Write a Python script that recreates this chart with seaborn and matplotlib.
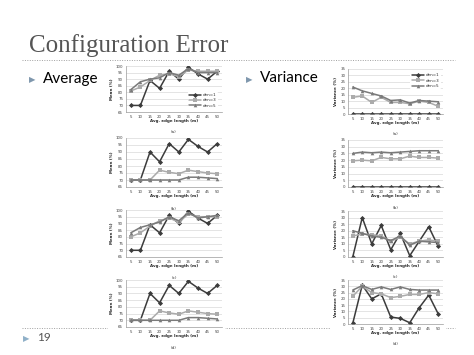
import matplotlib
matplotlib.use("Agg")
import pandas as pd
import seaborn as sns
import matplotlib.pyplot as plt
from matplotlib.lines import Line2D
from matplotlib.patches import Rectangle

# data
edge_len = [5, 10, 15, 20, 25, 30, 35, 40, 45, 50]
den_labels = ["den=1", "den=3", "den=5"]

mean_a_den1 = [70, 70, 89, 83, 96, 90, 99, 94, 90, 96]
mean_a_den3 = [81, 84, 89, 93, 94, 92, 97, 96, 96, 96]
mean_a_den5 = [82, 88, 90, 91, 95, 93, 98, 95, 95, 95]

mean_b_den1 = [70, 70, 90, 83, 96, 90, 99, 94, 90, 96]
mean_b_den3 = [70, 70, 70, 77, 75.5, 74.5, 77, 76, 75, 74.5]
mean_b_den5 = [70, 70, 70, 70, 70, 70, 72, 72, 71.5, 71]

mean_c_den1 = [70, 70, 89, 83, 96, 90, 99, 94, 90, 96]
mean_c_den3 = [80, 83, 88, 92, 94, 91, 97, 95, 95, 95]
mean_c_den5 = [83, 87, 89, 91, 95, 92, 98, 94, 95, 96]

mean_d_den1 = [70, 70, 90, 83, 96, 90, 99, 94, 90, 96]
mean_d_den3 = [70, 70, 70, 77, 75.5, 74.5, 77, 76, 75, 74.5]
mean_d_den5 = [70, 70, 70, 70, 70, 70, 72, 72, 71.5, 71]

var_a_den1 = [0, 0, 0, 0, 0, 0, 0, 0, 0, 0]
var_a_den3 = [13, 14, 9, 13, 9, 9, 8, 10, 9, 6]
var_a_den5 = [21, 18, 16, 14, 10.5, 11, 8.5, 10.5, 10, 9.5]

var_b_den1 = [0, 0, 0, 0, 0, 0, 0, 0, 0, 0]
var_b_den3 = [19.5, 20, 19.5, 22, 21, 21, 23, 22, 22, 21.5]
var_b_den5 = [25, 26, 25.5, 26, 25.5, 26, 26.5, 27, 27, 27]

var_c_den1 = [0, 30, 10, 24, 5.5, 18, 1, 12, 23, 8]
var_c_den3 = [16, 17.5, 17, 16, 12, 15, 10, 12, 13, 12]
var_c_den5 = [20, 18, 16, 15, 12.5, 16, 9, 12, 11.5, 11]

var_d_den1 = [0.5, 31, 20, 24, 5.5, 4.5, 1, 13, 23, 8]
var_d_den3 = [22, 30, 25, 24, 21, 22, 23.5, 23.5, 25, 24]
var_d_den5 = [27, 30.5, 27.5, 29.5, 27.5, 29.5, 27.5, 27, 27, 27]

mean_ticks = [65, 70, 75, 80, 85, 90, 95, 100]
var_ticks = [0, 5, 10, 15, 20, 25, 30, 35]

PALETTE = {"den=1": "#3c3c3c", "den=3": "#ababab", "den=5": "#7a7a7a"}
MARKERS = {"den=1": "D", "den=3": "s", "den=5": "^"}
SMALL = 2.9

W, H = 474, 355
sns.set_style("white")
plt.rcParams["font.family"] = ["DejaVu Sans"]

fig = plt.figure(figsize=(W / 100, H / 100), dpi=100)


def fx(px):
    return px / W


def fy(py):
    return 1 - py / H


def add_chart(box, series, ticks, ylabel, tag, legend_loc=None):
    """One little Excel style chart: box = (left, right, top, bottom) in px."""
    left, right, top, bottom = box
    # white chart image behind the axes
    fig.patches.append(Rectangle((fx(left - 18), fy(bottom + 20)), fx(right - left + 21),
                                 (bottom - top + 24) / H, transform=fig.transFigure,
                                 facecolor="white", edgecolor="none", zorder=1))
    ax = fig.add_axes([fx(left), fy(bottom), fx(right - left), (bottom - top) / H])
    ax.set_zorder(2)

    df = pd.DataFrame({
        "edge": edge_len * 3,
        "value": series[0] + series[1] + series[2],
        "den": [d for d in den_labels for _ in edge_len],
    })
    sns.lineplot(data=df, x="edge", y="value", hue="den", style="den",
                 palette=PALETTE, markers=MARKERS, dashes=False, linewidth=1.1,
                 markersize=2.6, markeredgewidth=0, ax=ax,
                 legend=legend_loc is not None)

    ax.set_xlim(2.5, 52.5)
    ax.set_ylim(ticks[0], ticks[-1])
    ax.set_xticks(edge_len)
    ax.set_yticks(ticks)
    ax.tick_params(labelsize=SMALL, length=1, width=0.4, pad=1, colors="#444444")
    ax.yaxis.grid(True, color="#cfcfcf", linewidth=0.4)
    for s in ["top", "right"]:
        ax.spines[s].set_visible(False)
    for s in ["left", "bottom"]:
        ax.spines[s].set_color("#9a9a9a")
        ax.spines[s].set_linewidth(0.5)
    ax.set_ylabel(ylabel, fontsize=SMALL, fontweight="bold", labelpad=1.5)
    ax.set_xlabel("Avg. edge length (m)", fontsize=SMALL, fontweight="bold", labelpad=0.5)
    ax.text(0.5, -0.40, tag, transform=ax.transAxes, ha="center", va="top",
            fontsize=SMALL, color="#333333")

    if legend_loc is not None:
        handles, labels = ax.get_legend_handles_labels()
        loc, anchor = legend_loc
        ax.legend(handles, labels, loc=loc, bbox_to_anchor=anchor, fontsize=SMALL,
                  frameon=True, facecolor="white", edgecolor="none", framealpha=1,
                  handlelength=3, handletextpad=0.6, labelspacing=0.35,
                  borderpad=0.3)
    return ax


# slide decoration
fig.text(fx(29), fy(52), "Configuration Error", fontsize=18, color="#555555",
         family="Liberation Serif", va="baseline", ha="left")
for y in (59.5, 328):
    fig.add_artist(Line2D([fx(22), fx(455)], [fy(y), fy(y)], transform=fig.transFigure,
                          color="#a0a0a0", linestyle=(0, (1, 1.5)), linewidth=0.7, zorder=0))

bullet_color = "#7f97ad"
fig.text(fx(29), fy(82.5), "\u25b6", fontsize=6, color=bullet_color, va="baseline")
fig.text(fx(43), fy(82.5), "Average", fontsize=11, family="Lato", color="black",
         va="baseline")
fig.text(fx(246), fy(82.5), "\u25b6", fontsize=6, color=bullet_color, va="baseline")
fig.text(fx(260), fy(82.5), "Variance", fontsize=11, family="Lato", color="black",
         va="baseline")
fig.text(fx(23), fy(341), "\u25b6", fontsize=6, color="#8fb0c8", va="baseline")
fig.text(fx(37), fy(341), "19", fontsize=8.5, family="Lato", color="#555555",
         va="baseline")

# left column: mean
add_chart((126, 222, 66, 112), [mean_a_den1, mean_a_den3, mean_a_den5], mean_ticks,
          "Mean (%)", "(a)", legend_loc=("lower right", (0.98, 0.02)))
add_chart((126, 222, 138, 187), [mean_b_den1, mean_b_den3, mean_b_den5], mean_ticks,
          "Mean (%)", "(b)")
add_chart((126, 222, 210, 257), [mean_c_den1, mean_c_den3, mean_c_den5], mean_ticks,
          "Mean (%)", "(c)")
add_chart((126, 222, 280, 327), [mean_d_den1, mean_d_den3, mean_d_den5], mean_ticks,
          "Mean (%)", "(d)")

# right column: variance
add_chart((348, 443, 69, 114), [var_a_den1, var_a_den3, var_a_den5], var_ticks,
          "Variance (%)", "(a)", legend_loc=("upper right", (1.0, 0.98)))
add_chart((348, 443, 140, 187), [var_b_den1, var_b_den3, var_b_den5], var_ticks,
          "Variance (%)", "(b)")
add_chart((348, 443, 211, 257), [var_c_den1, var_c_den3, var_c_den5], var_ticks,
          "Variance (%)", "(c)")
add_chart((348, 443, 280, 324), [var_d_den1, var_d_den3, var_d_den5], var_ticks,
          "Variance (%)", "(d)")

fig.savefig("out.png", dpi=100, facecolor="white")
